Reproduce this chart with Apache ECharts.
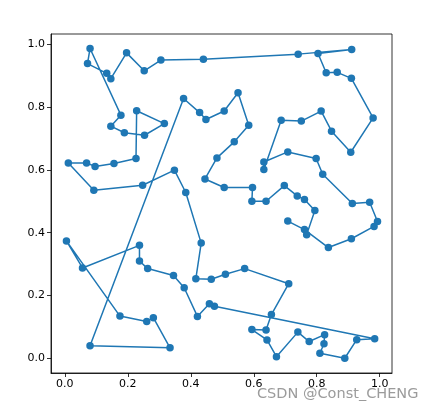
<!DOCTYPE html>
<html><head><meta charset="utf-8">
<script src="https://cdn.jsdelivr.net/npm/echarts@6/dist/echarts.min.js"></script>
<style>html,body{margin:0;padding:0;background:#fff}#c{width:441px;height:413px}</style>
</head><body><div id="c"></div>
<script>
var xs = [0.708,0.761,0.837,0.910,0.982,0.993,0.968,0.913,0.819,0.798,0.708,0.632,0.632,0.687,0.751,0.814,0.847,0.908,0.979,0.910,0.865,0.830,0.804,0.911,0.741,0.440,0.305,0.252,0.196,0.146,0.133,0.072,0.080,0.178,0.146,0.189,0.253,0.316,0.228,0.226,0.156,0.096,0.069,0.011,0.092,0.247,0.348,0.384,0.433,0.416,0.465,0.510,0.571,0.711,0.656,0.639,0.594,0.642,0.672,0.740,0.776,0.825,0.823,0.810,0.889,0.927,0.984,0.475,0.459,0.421,0.379,0.345,0.263,0.237,0.237,0.056,0.005,0.175,0.260,0.281,0.334,0.080,0.377,0.428,0.448,0.506,0.550,0.584,0.538,0.483,0.445,0.506,0.596,0.594,0.639,0.697,0.738,0.761,0.794,0.768];
var ys = [0.437,0.410,0.353,0.381,0.420,0.436,0.497,0.493,0.586,0.636,0.657,0.625,0.601,0.758,0.755,0.787,0.723,0.656,0.765,0.891,0.910,0.909,0.970,0.983,0.968,0.952,0.949,0.915,0.972,0.890,0.907,0.938,0.986,0.774,0.739,0.718,0.710,0.747,0.788,0.636,0.620,0.611,0.622,0.622,0.535,0.551,0.599,0.528,0.367,0.254,0.252,0.268,0.286,0.238,0.140,0.091,0.092,0.059,0.006,0.084,0.054,0.076,0.047,0.017,0.001,0.060,0.063,0.166,0.174,0.134,0.225,0.264,0.286,0.310,0.360,0.288,0.374,0.135,0.118,0.130,0.034,0.041,0.827,0.782,0.760,0.787,0.845,0.742,0.689,0.638,0.571,0.544,0.544,0.500,0.500,0.550,0.517,0.506,0.471,0.394];
var tickValues = [0.0,0.2,0.4,0.6,0.8,1.0];

var pts = xs.map(function(x,i){return [x, ys[i]];});
var chart = echarts.init(document.getElementById('c'), null, {renderer:'canvas'});
var axisCommon = {
  type:'value',
  splitLine:{show:false},
  axisLine:{show:true, onZero:false, lineStyle:{color:'#000', width:0.8}},
  axisTick:{show:true, inside:false, length:4, lineStyle:{color:'#000', width:0.8}, customValues:tickValues},
  axisLabel:{color:'#000', fontSize:11, fontFamily:'DejaVu Sans', customValues:tickValues, margin:6,
    formatter:function(v){return v.toFixed(1);}}
};
chart.setOption({
  animation:false,
  backgroundColor:'#fff',
  grid:{left:51, right:49, top:34, bottom:40, show:true, borderColor:'#000', borderWidth:0.8, backgroundColor:'transparent'},
  xAxis: Object.assign({}, axisCommon, {min:-0.044, max:1.039}),
  yAxis: Object.assign({}, axisCommon, {min:-0.046, max:1.032}),
  series:[{
    type:'line', data:pts, showAllSymbol:true, symbol:'circle', symbolSize:7.5,
    itemStyle:{color:'#1f77b4'}, lineStyle:{color:'#1f77b4', width:1.5}
  }],
  graphic:[{type:'text', left:257, top:387, style:{text:'CSDN @Const_CHENG', fill:'#8a8a8a', font:'14.5px "DejaVu Sans"', opacity:0.85}}]
});
</script></body></html>
